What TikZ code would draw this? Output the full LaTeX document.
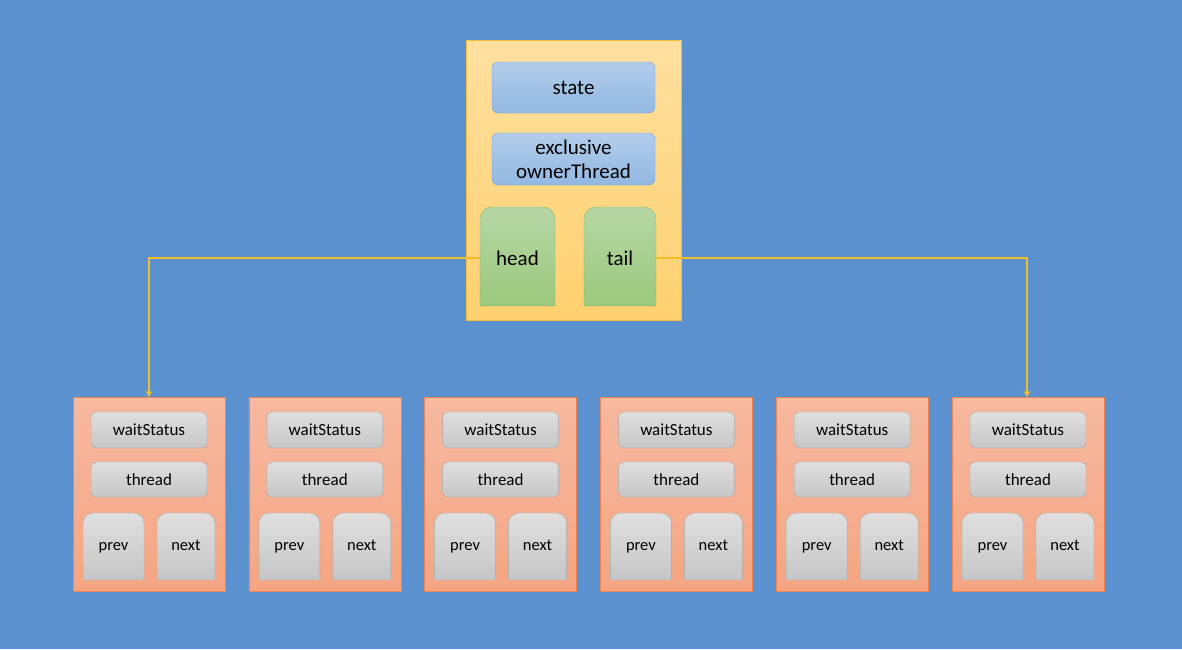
\documentclass[tikz,border=0pt]{standalone}
\usepackage{fontspec}
\setmainfont{Carlito}
\usetikzlibrary{arrows.meta}
\begin{document}
\begin{tikzpicture}[x=1pt,y=-1pt,
 blue box/.style={draw={rgb,255:red,120;green,160;blue,210},rounded corners=6pt,top color={rgb,255:red,178;green,205;blue,235},bottom color={rgb,255:red,146;green,184;blue,226},font=\fontsize{21}{24}\selectfont,align=center,inner sep=0pt},
 gray box/.style={draw=gray!70,rounded corners=5pt,top color=gray!25,bottom color=gray!45,font=\fontsize{17}{20}\selectfont,inner sep=0pt},
 link/.style={draw={rgb,255:red,240;green,190;blue,40},line width=1.3pt},
 arr/.style={link,->,>={Stealth[length=6pt,width=7pt,open]}}]
\fill[color={rgb,255:red,92;green,145;blue,208}] (0,0) rectangle (1182,649);
\useasboundingbox (0,0) rectangle (1182,649);
% top box
\node[draw={rgb,255:red,245;green,190;blue,60},line width=0.8pt,top color={rgb,255:red,255;green,224;blue,160},bottom color={rgb,255:red,255;green,208;blue,110},minimum width=215,minimum height=280,inner sep=0] (aqs) at (573.5,180) {};
\node[blue box,minimum width=163,minimum height=51] (state) at (573.5,87.5) {state};
\node[blue box,minimum width=163,minimum height=52] (excl) at (573.5,159) {exclusive\\ownerThread};
\foreach \n/\t/\xa/\xb in {head/head/480/555,tail/tail/584/656}{
  \path[draw={rgb,255:red,130;green,180;blue,90},top color={rgb,255:red,182;green,215;blue,165},bottom color={rgb,255:red,155;green,200;blue,125}]
   (\xa,306) [rounded corners=12pt]-- (\xa,207) -- (\xb,207) [sharp corners]-- (\xb,306) -- cycle;
  \node[font=\fontsize{21}{24}\selectfont,minimum width=\xb-\xa,minimum height=99,inner sep=0] (\n) at ({(\xa+\xb)/2},258) {\t};
}
% bottom nodes
\foreach \i in {0,...,5}{
  \pgfmathsetmacro{\x}{73+175.8*\i}
  \node[draw={rgb,255:red,238;green,130;blue,80},top color={rgb,255:red,247;green,185;blue,160},bottom color={rgb,255:red,245;green,165;blue,130},minimum width=152,minimum height=194,inner sep=0] (n\i) at (\x+76,494) {};
  \node[gray box,minimum width=116,minimum height=36] (ws\i) at (\x+76,430) {waitStatus};
  \node[gray box,minimum width=116,minimum height=35] (th\i) at (\x+76,479.5) {thread};
  \foreach \nm/\a/\b in {prev/10/71,next/84/142}{
    \path[draw=gray!70,top color=gray!25,bottom color=gray!45] (\x+\a,580) [rounded corners=10pt]-- (\x+\a,513) -- (\x+\b,513) [sharp corners]-- (\x+\b,580) -- cycle;
    \node[font=\fontsize{16.5}{19}\selectfont,text height=1.4ex,text depth=0.4ex,minimum width=\b-\a,minimum height=67,inner sep=0] (\nm\i) at (\x+\a/2+\b/2,548) {\nm};
  }
}
\coordinate (c1) at (149,258);
\coordinate (c2) at (1027,258);
\draw[arr] (head.west |- 0,258) -- (c1) -- (n0.north -| c1);
\draw[arr] (tail.east |- 0,258) -- (c2) -- (n5.north -| c2);
\end{tikzpicture}
\end{document}
